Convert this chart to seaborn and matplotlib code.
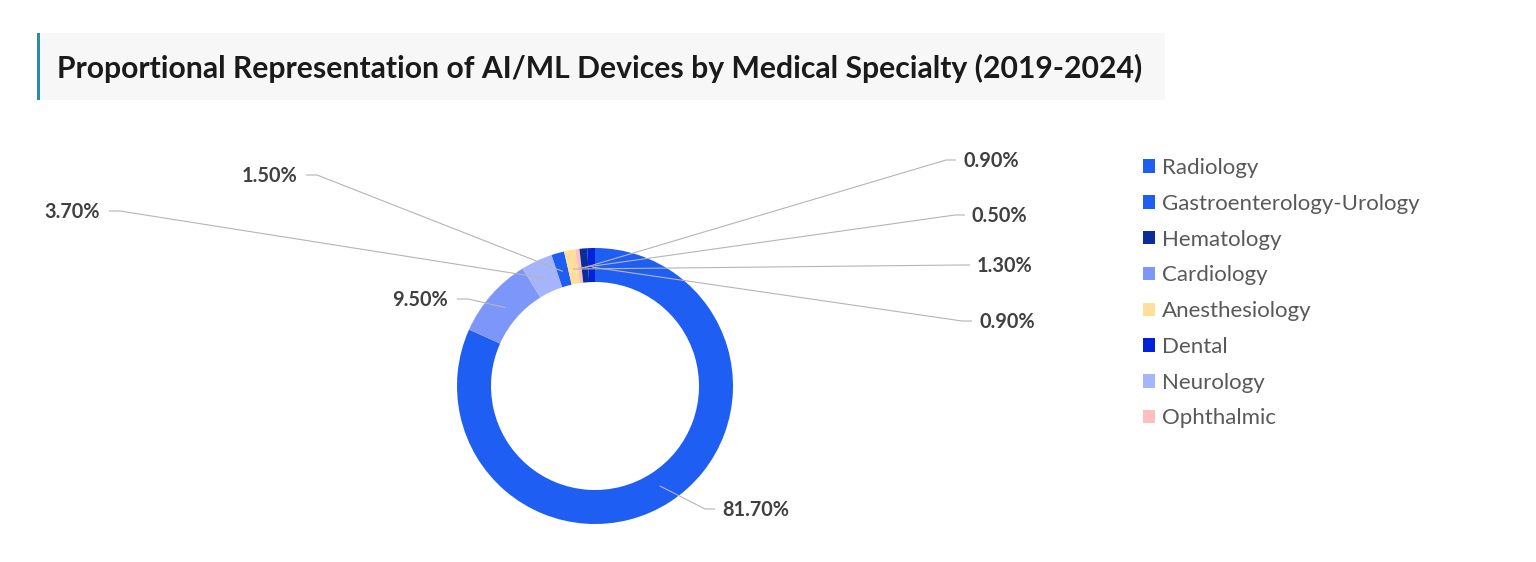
import matplotlib
matplotlib.use("Agg")
import matplotlib.pyplot as plt
from matplotlib.patches import Rectangle, Patch
import numpy as np
import seaborn as sns

# ---- data (slice order, clockwise from 12 o'clock) ----
specialties = ["Radiology", "Cardiology", "Neurology", "Gastroenterology-Urology",
               "Anesthesiology", "Ophthalmic", "Hematology", "Dental"]
shares = [81.7, 9.5, 3.7, 1.5, 1.3, 0.5, 0.9, 0.9]
colors = ["#1e5ef2", "#7d96fa", "#a5b5fc", "#1e5ef2",
          "#ffdf99", "#ffbfbf", "#0b2d9a", "#0022d8"]
legend_order = ["Radiology", "Gastroenterology-Urology", "Hematology", "Cardiology",
                "Anesthesiology", "Dental", "Neurology", "Ophthalmic"]
title = "Proportional Representation of AI/ML Devices by Medical Specialty (2019-2024)"

# label layout (image pixel coords: text anchor x, y, side)
label_layout = {
    "Radiology": (722, 510, "right"),
    "Cardiology": (448, 300, "left"),
    "Neurology": (100, 212, "left"),
    "Gastroenterology-Urology": (297, 176, "left"),
    "Anesthesiology": (977, 266, "right"),
    "Ophthalmic": (972, 216, "right"),
    "Hematology": (963, 161, "right"),
    "Dental": (979, 322, "right"),
}

sns.set_theme(style="white")
plt.rcParams["font.family"] = ["Lato", "DejaVu Sans"]

W, H = 1536, 562
fig = plt.figure(figsize=(W / 100, H / 100), dpi=100)
ax = fig.add_axes([0, 0, 1, 1])

cx, cy, R = 595, H - 386, 138
wedges, _ = ax.pie(shares, colors=colors, startangle=90, counterclock=False,
                   radius=R, center=(cx, cy),
                   wedgeprops=dict(width=34, linewidth=0, antialiased=True),
                   frame=True)
ax.set_xlim(0, W)
ax.set_ylim(0, H)
ax.set_aspect("equal")
ax.axis("off")

# labels with leader lines
for w, name, val in zip(wedges, specialties, shares):
    ang = np.deg2rad((w.theta1 + w.theta2) / 2)
    r_anchor = R - 19
    ax_, ay_ = cx + r_anchor * np.cos(ang), cy + r_anchor * np.sin(ang)
    tx, ty_img, side = label_layout[name]
    ty = H - ty_img
    if side == "right":
        e1, e2 = tx - 17, tx - 7
        ha = "left"
    else:
        e1, e2 = tx + 20, tx + 9
        ha = "right"
    ax.plot([ax_, e1, e2], [ay_, ty + 1, ty + 1], color="#b5b5b5", lw=0.8,
            solid_capstyle="butt", zorder=5)
    ax.text(tx, ty, f"{val:.2f}%", ha=ha, va="center", fontsize=14.3,
            fontweight="bold", color="#404040")

# title box
fig.patches.append(Rectangle((37 / W, 1 - 100 / H), (1165 - 37) / W, 67 / H,
                             transform=fig.transFigure, facecolor="#f7f7f7",
                             edgecolor="none", zorder=0))
fig.patches.append(Rectangle((37 / W, 1 - 100 / H), 3 / W, 67 / H,
                             transform=fig.transFigure, facecolor="#2a8da0",
                             edgecolor="none", zorder=1))
fig.text(57 / W, 1 - 68 / H, title, ha="left", va="center", fontsize=21.7,
         fontweight="bold", color="#1a1a1a")

# legend
name_to_color = {n: c for n, c in zip(specialties, colors)}
handles = [Patch(facecolor=name_to_color[n], edgecolor="none") for n in legend_order]
fig.legend(handles, legend_order, loc="upper left",
           bbox_to_anchor=(1143 / W, 1 - 158 / H), frameon=False,
           fontsize=16, labelcolor="#595959", handlelength=0.55, handleheight=0.55,
           handletextpad=0.3, labelspacing=0.71, borderpad=0, borderaxespad=0)

fig.savefig("out.png", dpi=100, facecolor="white")
